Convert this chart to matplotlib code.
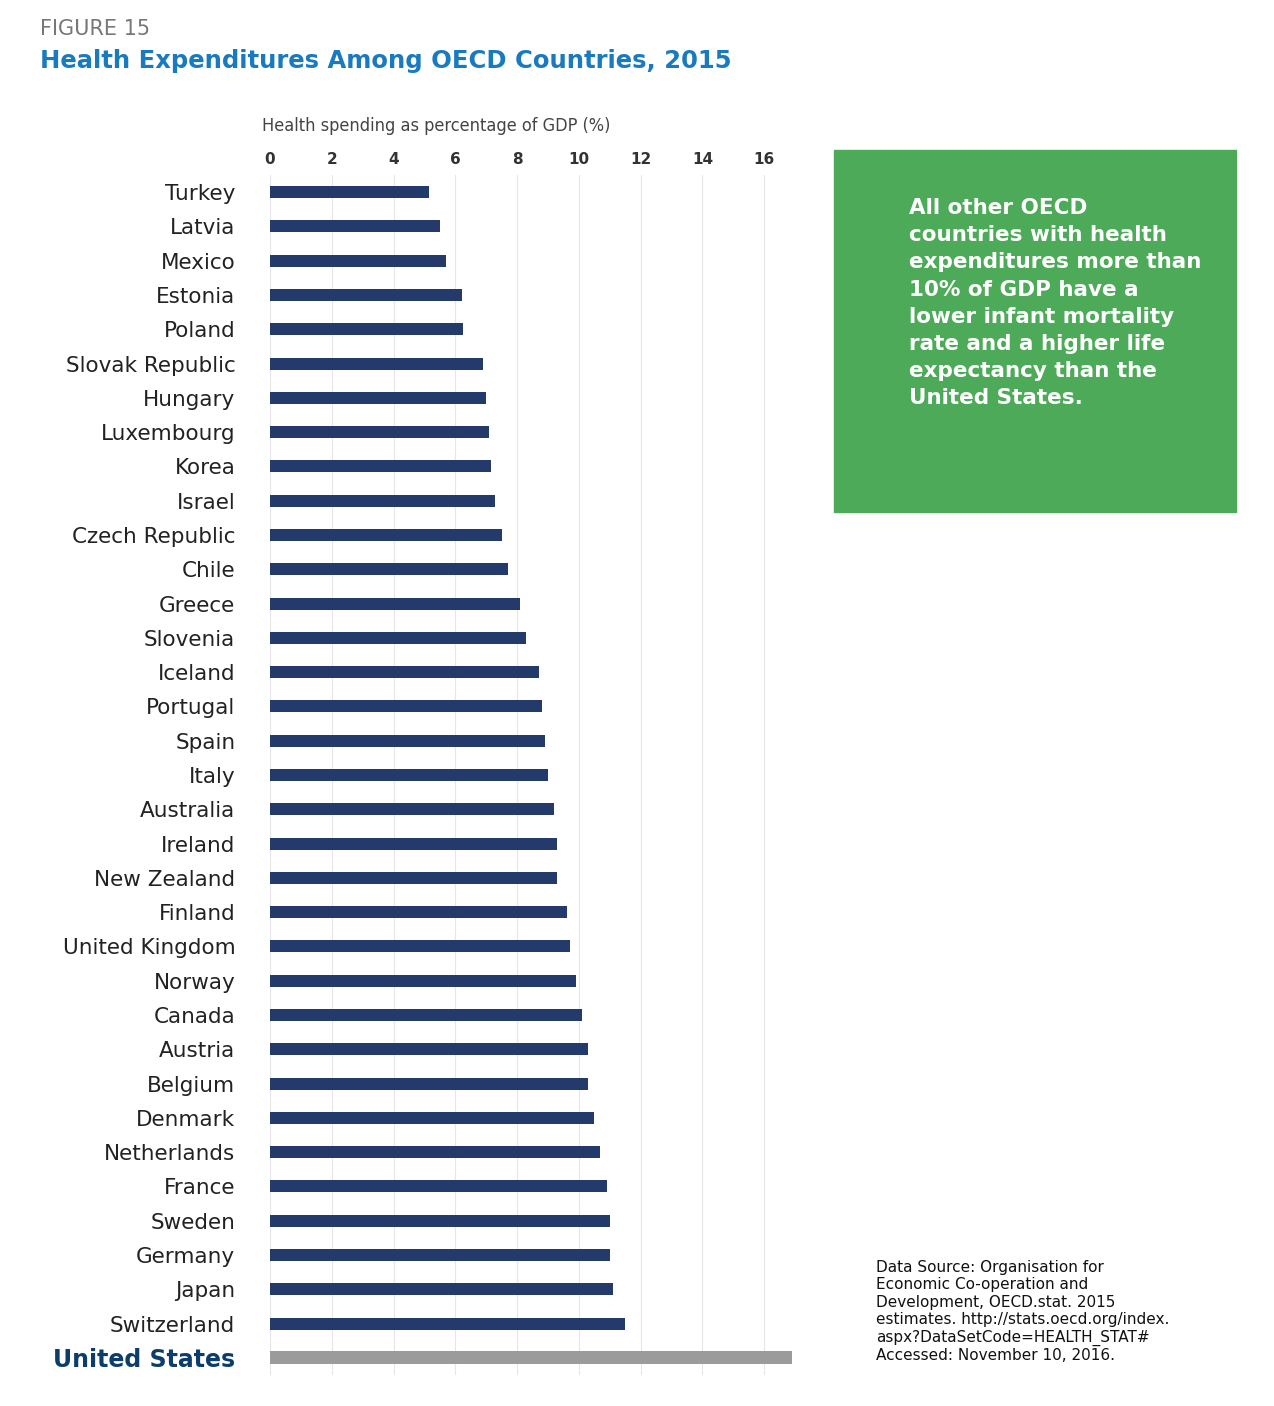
import matplotlib
matplotlib.use("Agg")
import matplotlib.pyplot as plt
from matplotlib.patches import Rectangle

countries = ["Turkey","Latvia","Mexico","Estonia","Poland","Slovak Republic","Hungary","Luxembourg",
             "Korea","Israel","Czech Republic","Chile","Greece","Slovenia","Iceland","Portugal","Spain",
             "Italy","Australia","Ireland","New Zealand","Finland","United Kingdom","Norway","Canada",
             "Austria","Belgium","Denmark","Netherlands","France","Sweden","Germany","Japan","Switzerland",
             "United States"]
values = [5.15,5.5,5.7,6.2,6.25,6.9,7.0,7.1,7.15,7.3,7.5,7.7,8.1,8.3,8.7,8.8,8.9,9.0,9.2,9.3,9.3,
          9.6,9.7,9.9,10.1,10.3,10.3,10.5,10.7,10.9,11.0,11.0,11.1,11.5,16.9]
ticks = [0,2,4,6,8,10,12,14,16]

W, H = 1274, 1406
fig = plt.figure(figsize=(W/100, H/100), dpi=100)
ax = fig.add_axes([270/W, 1-1375/H, (792-270)/W, (1375-175)/H])
n = len(countries)
ys = list(range(n))
colors = ["#233a6b"]*(n-1) + ["#9b9b9b"]
heights = [0.35]*(n-1) + [0.38]
ax.barh(ys, values, color=colors, height=heights, zorder=3)
ax.set_ylim(n-0.5, -0.5)
ax.set_xlim(0, 16.9)
ax.set_xticks(ticks)
ax.xaxis.tick_top()
ax.tick_params(axis="x", length=0, labelsize=11, pad=6)
for t in ax.get_xticklabels():
    t.set_fontweight("bold"); t.set_color("#333333")
ax.grid(axis="x", color="#e6e6e6", lw=0.8, zorder=0)
ax.set_yticks(ys)
ax.set_yticklabels(countries, fontsize=15.5, color="#222222")
ax.tick_params(axis="y", length=0, pad=25)
lab = ax.get_yticklabels()[-1]
lab.set_fontweight("bold"); lab.set_color("#0d3d6b"); lab.set_fontsize(17)
for s in ax.spines.values():
    s.set_visible(False)

fig.text(262/W, 1-126/H, "Health spending as percentage of GDP (%)", fontsize=13,
         color="#444444", va="center", fontstretch="condensed")
fig.text(40/W, 1-29/H, "FIGURE 15", fontsize=15, color="#777777", va="center")
fig.text(40/W, 1-61/H, "Health Expenditures Among OECD Countries, 2015", fontsize=17.5,
         color="#1a7ac0", fontweight="bold", va="center")

fig.patches.append(Rectangle((834/W, 1-512/H), (1236-834)/W, (512-150)/H,
                             transform=fig.transFigure, color="#4caa58"))
fig.text(909/W, 1-198/H,
         "All other OECD\ncountries with health\nexpenditures more than\n10% of GDP have a\n"
         "lower infant mortality\nrate and a higher life\nexpectancy than the\nUnited States.",
         fontsize=15.5, color="white", fontweight="bold", va="top", linespacing=1.45)
fig.text(876/W, 1-1260/H,
         "Data Source: Organisation for\nEconomic Co-operation and\nDevelopment, OECD.stat. 2015\n"
         "estimates. http://stats.oecd.org/index.\naspx?DataSetCode=HEALTH_STAT#\n"
         "Accessed: November 10, 2016.", fontsize=11, color="#111111", va="top", linespacing=1.2)
fig.savefig("out.png", dpi=100)
